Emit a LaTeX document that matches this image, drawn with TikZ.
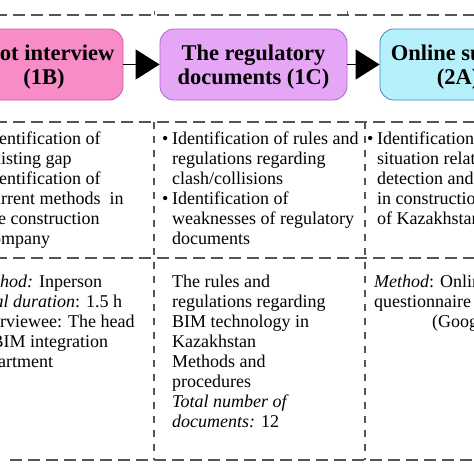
\documentclass[tikz,border=0pt]{standalone}
\usepackage{fontspec}
\setmainfont{Liberation Serif}
\usetikzlibrary{arrows.meta}
\definecolor{pinkfill}{RGB}{248,140,198}
\definecolor{pinkline}{RGB}{214,88,158}
\definecolor{purplefill}{RGB}{230,166,246}
\definecolor{purpleline}{RGB}{176,98,208}
\definecolor{cyanfill}{RGB}{182,240,250}
\definecolor{cyanline}{RGB}{58,138,198}
\definecolor{dashgray}{RGB}{85,85,85}
\newcommand{\bul}{\makebox[10pt][l]{\textbullet}}
\newcommand{\ind}{\hspace*{10pt}}
\newcommand{\hdtext}[2]{\raisebox{-3.5pt}[\height][\depth]{\begin{tabular}{@{}c@{}}#1\\#2\end{tabular}}}
\begin{document}
\begin{tikzpicture}[x=1pt,y=-1pt,
  header/.style={draw, rounded corners=14pt, minimum height=71pt, align=center,
    font=\fontsize{22.5}{23.5}\selectfont\bfseries, line width=0.8pt, inner sep=0pt},
  arr/.style={line width=1.3pt, -{Triangle[length=24pt,width=30pt]}},
  hdash/.style={draw=dashgray, line width=1.3pt, dash pattern=on 12pt off 6pt},
  vdash/.style={draw=dashgray, line width=1.3pt, dash pattern=on 7pt off 7pt},
  cell/.style={anchor=base west, inner sep=0pt, font=\fontsize{18}{20}\selectfont}
]
\useasboundingbox (0,0) rectangle (474,474);
\clip (0,0) rectangle (474,474);
\fill[white] (0,0) rectangle (474,474);

% top dashed line
\draw[hdash] (-5,15) -- (480,15);
\draw[draw=dashgray, line width=1pt] (154,11) -- (154,15);
\draw[draw=dashgray, line width=1pt] (347,11) -- (347,15);

% header boxes
\node[header, fill=pinkfill, draw=pinkline, minimum width=158pt] (p1) at (44,64.5) {\hdtext{Pilot interview}{(1B)}};
\node[header, fill=purplefill, draw=purpleline, minimum width=187pt] (p2) at (253.5,64.5) {\hdtext{The regulatory}{documents (1C)}};
\node[header, fill=cyanfill, draw=cyanline, minimum width=156pt] (p3) at (458,64.5) {\hdtext{Online survey}{(2A)}};
\draw[arr] (p1.east) -- (p2.west);
\draw[arr] (p2.east) -- (p3.west);

% table grid
\draw[hdash] (-5,122) -- (480,122);
\draw[hdash] (-5,258) -- (480,258);
\draw[hdash] (10,460) -- (480,460);
\draw[vdash] (154,122) -- (154,460);
\draw[vdash] (365,122) -- (365,460);

% cells
\node[cell] (c11) at (-26,144) {\begin{tabular}[t]{@{}l@{}}
\bul Identification of\\ \ind existing gap\\ \bul Identification of\\ \ind current methods\ \ in\\ \ind the construction\\ \ind company\end{tabular}};
\node[cell] (c12) at (162,144) {\begin{tabular}[t]{@{}l@{}}
\bul Identification of rules and\\ \ind regulations regarding\\ \ind clash/collisions\\ \bul Identification of\\ \ind weaknesses of regulatory\\ \ind documents\end{tabular}};
\node[cell] (c13) at (367,144) {\begin{tabular}[t]{@{}l@{}}
\bul Identification of the\\ \ind situation related to clash\\ \ind detection and resolution\\ \ind in construction industry\\ \ind of Kazakhstan\end{tabular}};

\node[cell] (c21) at (-28,287) {\begin{tabular}[t]{@{}l@{}}
\textit{Method:} Inperson\\ \textit{Total duration}: 1.5 h\\ Interviewee: The head\\ of BIM integration\\ department\end{tabular}};
\node[cell] (c22) at (172,287) {\begin{tabular}[t]{@{}l@{}}
The rules and\\ regulations regarding\\ BIM technology in\\ Kazakhstan\\ Methods and\\ procedures\\ \textit{Total number of}\\ \textit{documents:} 12\end{tabular}};
\node[cell] (c23) at (374,287) {\begin{tabular}[t]{@{}l@{}}
\textit{Method}: Online survey\\ questionnaire\end{tabular}};
\node[cell] (c23b) at (432,327) {(Google forms)};
\end{tikzpicture}
\end{document}
